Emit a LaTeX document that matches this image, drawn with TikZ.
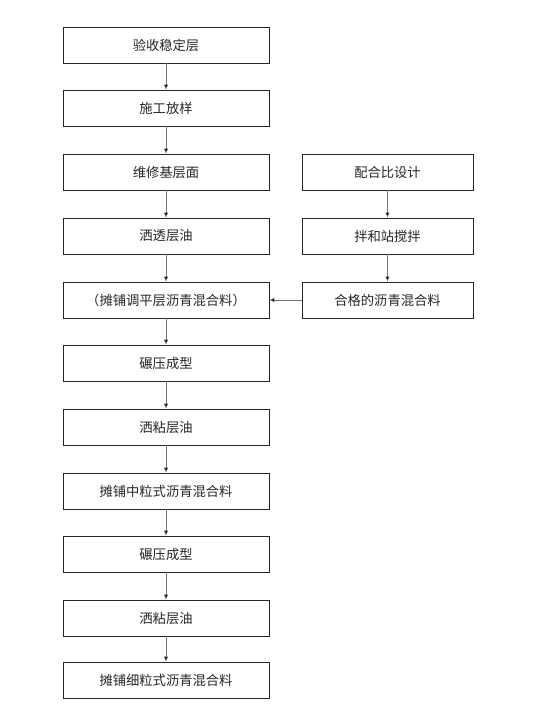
\documentclass[tikz,border=0pt]{standalone}
\usepackage{fontspec}
\newfontfamily\cjk{Noto Sans CJK SC}
\usetikzlibrary{arrows.meta}
\begin{document}
\begin{tikzpicture}[x=1pt,y=-1pt,>={Latex[length=5pt,width=4.5pt]},font=\cjk\fontsize{13.3}{15}\selectfont]
        \tikzstyle{stepbox}=[rectangle,draw=black!85,line width=0.9pt,text=black!85,minimum height=36pt,inner sep=0pt]
        \tikzstyle{mainbox}=[stepbox,minimum width=206pt]
        \tikzstyle{sidebox}=[stepbox,minimum width=171pt]
        \tikzstyle{flow}=[draw=black!55,line width=0.5pt,->]
        \useasboundingbox (0,0) rectangle (555,715);
       \begin{scope}
         \node [mainbox] (m1) at (166,45) {验收稳定层};
         \node [mainbox] (m2) at (166,108) {施工放样};
         \node [mainbox] (m3) at (166,172) {维修基层面};
         \node [mainbox] (m4) at (166,236) {洒透层油};
         \node [mainbox] (m5) at (166,300) {（摊铺调平层沥青混合料）};
         \node [mainbox] (m6) at (166,363) {碾压成型};
         \node [mainbox] (m7) at (166,427) {洒粘层油};
         \node [mainbox] (m8) at (166,491) {摊铺中粒式沥青混合料};
         \node [mainbox] (m9) at (166,554) {碾压成型};
         \node [mainbox] (m10) at (166,618) {洒粘层油};
         \node [mainbox] (m11) at (166,680) {摊铺细粒式沥青混合料};
         \node [sidebox] (r1) at (387.5,172) {配合比设计};
         \node [sidebox] (r2) at (387.5,236) {拌和站搅拌};
         \node [sidebox] (r3) at (387.5,300) {合格的沥青混合料};
         \foreach \a/\b in {m1/m2,m2/m3,m3/m4,m4/m5,m5/m6,m6/m7,m7/m8,m8/m9,m9/m10,m10/m11,r1/r2,r2/r3}
           \path[flow] (\a) edge (\b);
         \path[flow] (r3) edge (m5);
        \end{scope}
      \end{tikzpicture}
\end{document}
